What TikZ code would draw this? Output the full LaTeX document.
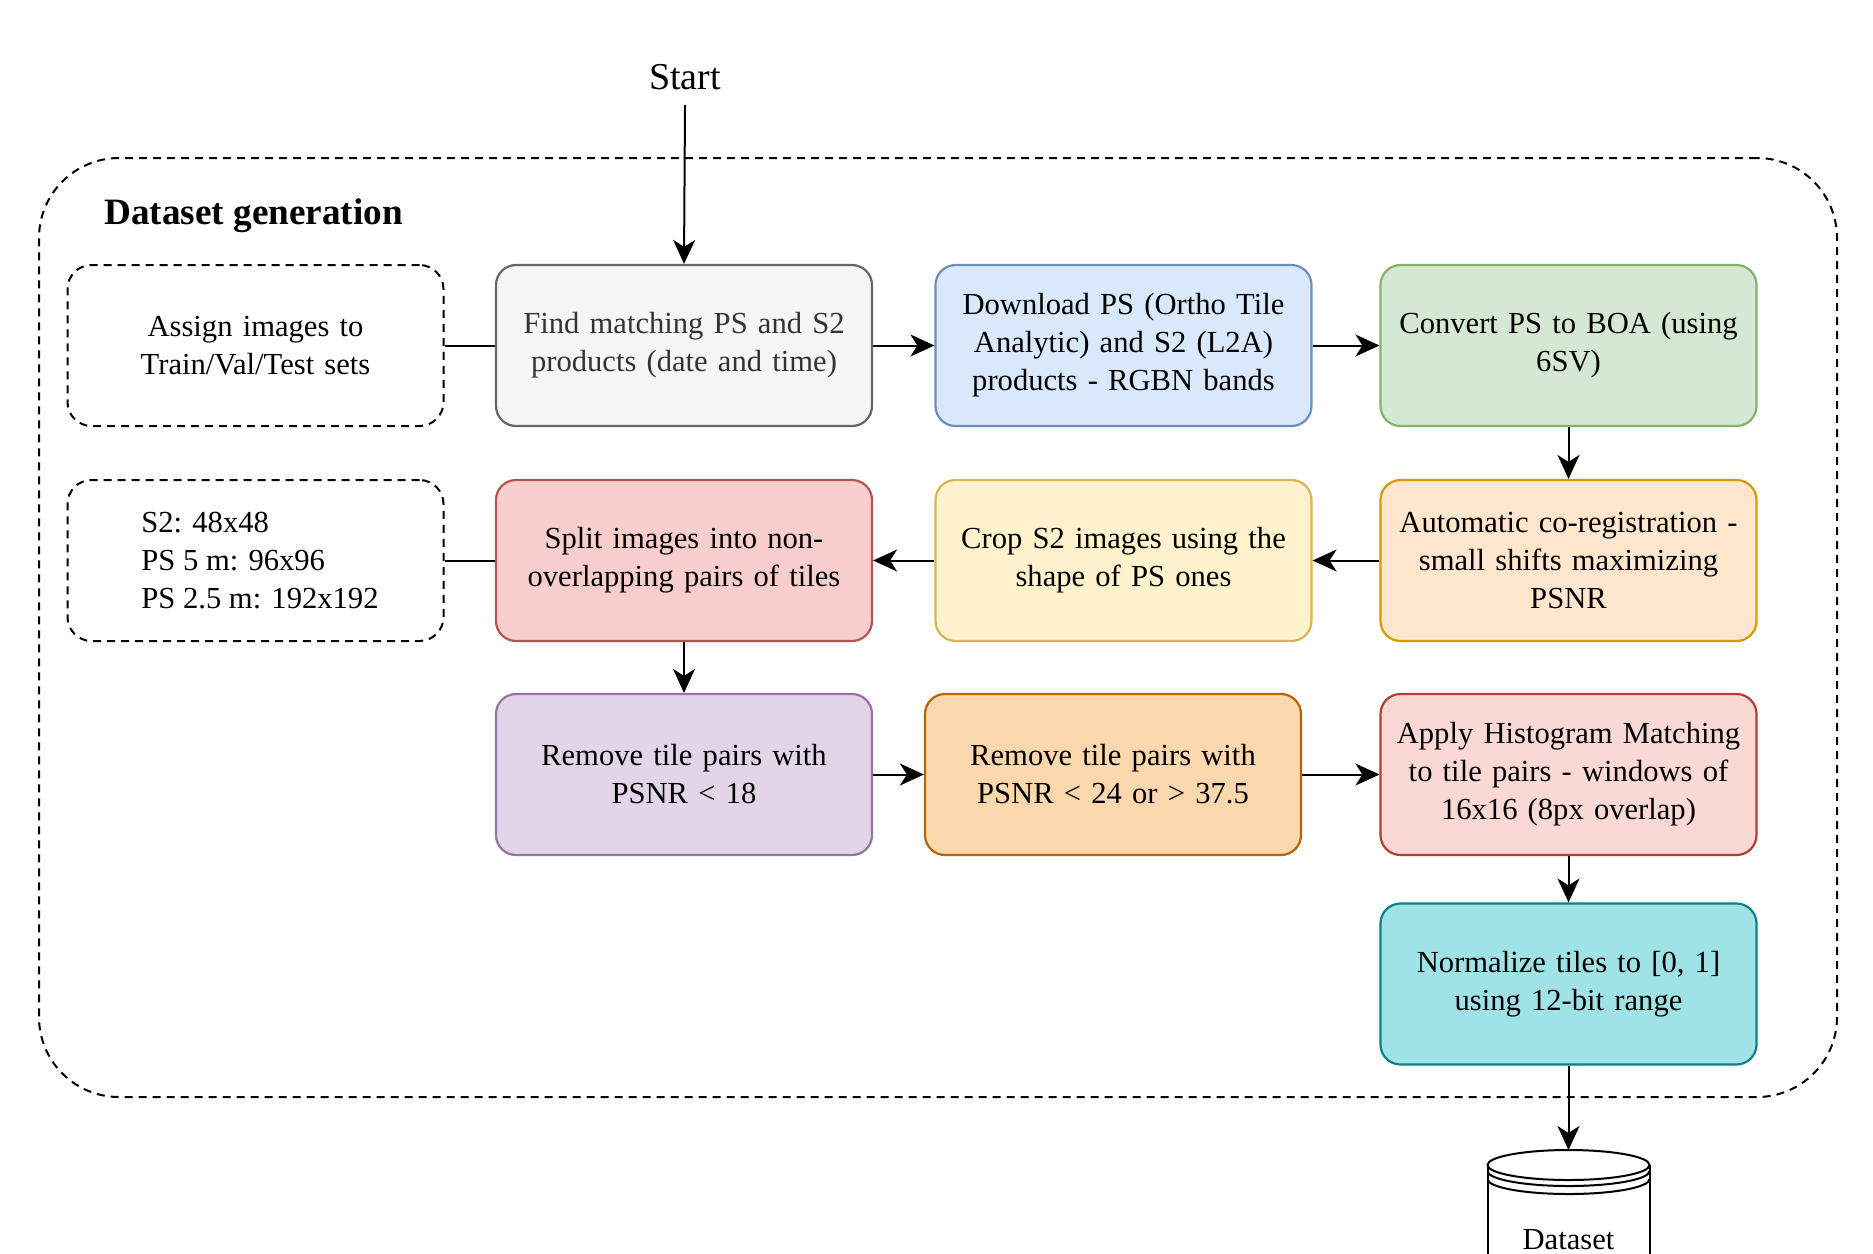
\documentclass[tikz,border=0pt]{standalone}
\usepackage{fontspec}
\setmainfont{Liberation Serif}
\usetikzlibrary{arrows.meta}
\definecolor{grayF}{HTML}{F5F5F5}\definecolor{grayD}{HTML}{666666}\definecolor{grayT}{HTML}{333333}
\definecolor{blueF}{HTML}{DAE8FC}\definecolor{blueD}{HTML}{6C8EBF}
\definecolor{greenF}{HTML}{D5E8D4}\definecolor{greenD}{HTML}{82B366}
\definecolor{peachF}{HTML}{FFE6CC}\definecolor{peachD}{HTML}{D79B00}
\definecolor{yellowF}{HTML}{FFF2CC}\definecolor{yellowD}{HTML}{D6B656}
\definecolor{redF}{HTML}{F8CECC}\definecolor{redD}{HTML}{B85450}
\definecolor{purpleF}{HTML}{E1D5E7}\definecolor{purpleD}{HTML}{9673A6}
\definecolor{orangeF}{HTML}{FAD7AC}\definecolor{orangeD}{HTML}{B46504}
\definecolor{pinkF}{HTML}{FAD9D5}\definecolor{pinkD}{HTML}{AE4132}
\definecolor{tealF}{HTML}{9FE3E6}\definecolor{tealD}{HTML}{0E8088}
\begin{document}
\begin{tikzpicture}[x=0.5pt,y=-0.5pt,
  boxfont/.style={font=\fontsize{15.3}{19}\selectfont},
  box/.style={draw, boxfont, rounded corners=10pt, line width=1.1pt,
    minimum width=188pt, minimum height=80.5pt, text width=182pt,
    align=center, inner sep=0pt},
  dashy/.style={dash pattern=on 4pt off 3pt, line width=1pt},
  dbox/.style={box, dashy, draw=black, fill=white, rounded corners=12pt},
  arr/.style={-{Stealth[length=12pt,width=11pt,inset=3.5pt]}, line width=1pt},
  link/.style={line width=1pt}]
\useasboundingbox (0,0) rectangle (1873,1253);

% outer group
\node[draw, dashy, rounded corners=40pt, minimum width=899pt, minimum height=469.5pt, inner sep=0pt]
  (group) at (938,627.5) {};
\node[anchor=west, inner sep=0pt, font=\bfseries\fontsize{18.6}{22}\selectfont] (title) at (104,216) {Dataset generation};

% start
\node[inner sep=0pt, font=\fontsize{19}{22}\selectfont] (start) at (685,77) {Start};

% left dashed boxes
\node[dbox] (assign) at (255.5,345.5) {Assign images to\\Train/Val/Test sets};
\node[dbox] (sizes) at (255.5,560.5) {};
\node[boxfont, anchor=west, align=left, inner sep=0pt] (sizestxt) at (141,560.5)
  {S2: 48x48\\PS 5 m: 96x96\\PS 2.5 m: 192x192};

% process boxes
\node[box, draw=grayD, fill=grayF, text=grayT] (find) at (684,345.5) {Find matching PS and S2\\products (date and time)};
\node[box, draw=blueD, fill=blueF] (down) at (1123.5,345.5) {Download PS (Ortho Tile\\Analytic) and S2 (L2A)\\products - RGBN bands};
\node[box, draw=greenD, fill=greenF] (conv) at (1568.5,345.5) {Convert PS to BOA (using\\6SV)};
\node[box, draw=peachD, fill=peachF] (coreg) at (1568.5,560.5) {Automatic co-registration -\\small shifts maximizing\\PSNR};
\node[box, draw=yellowD, fill=yellowF] (crop) at (1123.5,560.5) {Crop S2 images using the\\shape of PS ones};
\node[box, draw=redD, fill=redF] (split) at (684,560.5) {Split images into non-\\overlapping pairs of tiles};
\node[box, draw=purpleD, fill=purpleF] (rem1) at (684,774.5) {Remove tile pairs with\\PSNR < 18};
\node[box, draw=orangeD, fill=orangeF] (rem2) at (1113,774.5) {Remove tile pairs with\\PSNR < 24 or > 37.5};
\node[box, draw=pinkD, fill=pinkF] (hist) at (1568.5,774.5) {Apply Histogram Matching\\to tile pairs - windows of\\16x16 (8px overlap)};
\node[box, draw=tealD, fill=tealF] (norm) at (1568.5,984) {Normalize tiles to [0, 1]\\using 12-bit range};

% dataset cylinder
\coordinate (dbtop) at (1568.5,1150);
\draw[line width=1pt, fill=white] (1487.5,1165) -- (1487.5,1320) -- (1649.5,1320) -- (1649.5,1165);
\draw[line width=1pt, fill=white] (1568.5,1165) ellipse [x radius=40.5pt, y radius=7.5pt];
\draw[line width=1pt] (1487.5,1171) arc[start angle=180, end angle=360, x radius=40.5pt, y radius=7.5pt];
\draw[line width=1pt] (1487.5,1179) arc[start angle=180, end angle=360, x radius=40.5pt, y radius=7.5pt];
\node[boxfont, inner sep=0pt] (db) at (1568.5,1240) {Dataset};

% connectors
\draw[arr] ([yshift=-7.5pt]start.south) -- (find.north);
\draw[link] (assign.east) -- (find.west);
\draw[link] (sizes.east) -- (split.west);
\draw[arr] (find) -- (down);
\draw[arr] (down) -- (conv);
\draw[arr] (conv) -- (coreg);
\draw[arr] (coreg) -- (crop);
\draw[arr] (crop) -- (split);
\draw[arr] (split) -- (rem1);
\draw[arr] (rem1) -- (rem2);
\draw[arr] (rem2) -- (hist);
\draw[arr] (hist) -- (norm);
\draw[arr] (norm) -- (dbtop);
\end{tikzpicture}
\end{document}
